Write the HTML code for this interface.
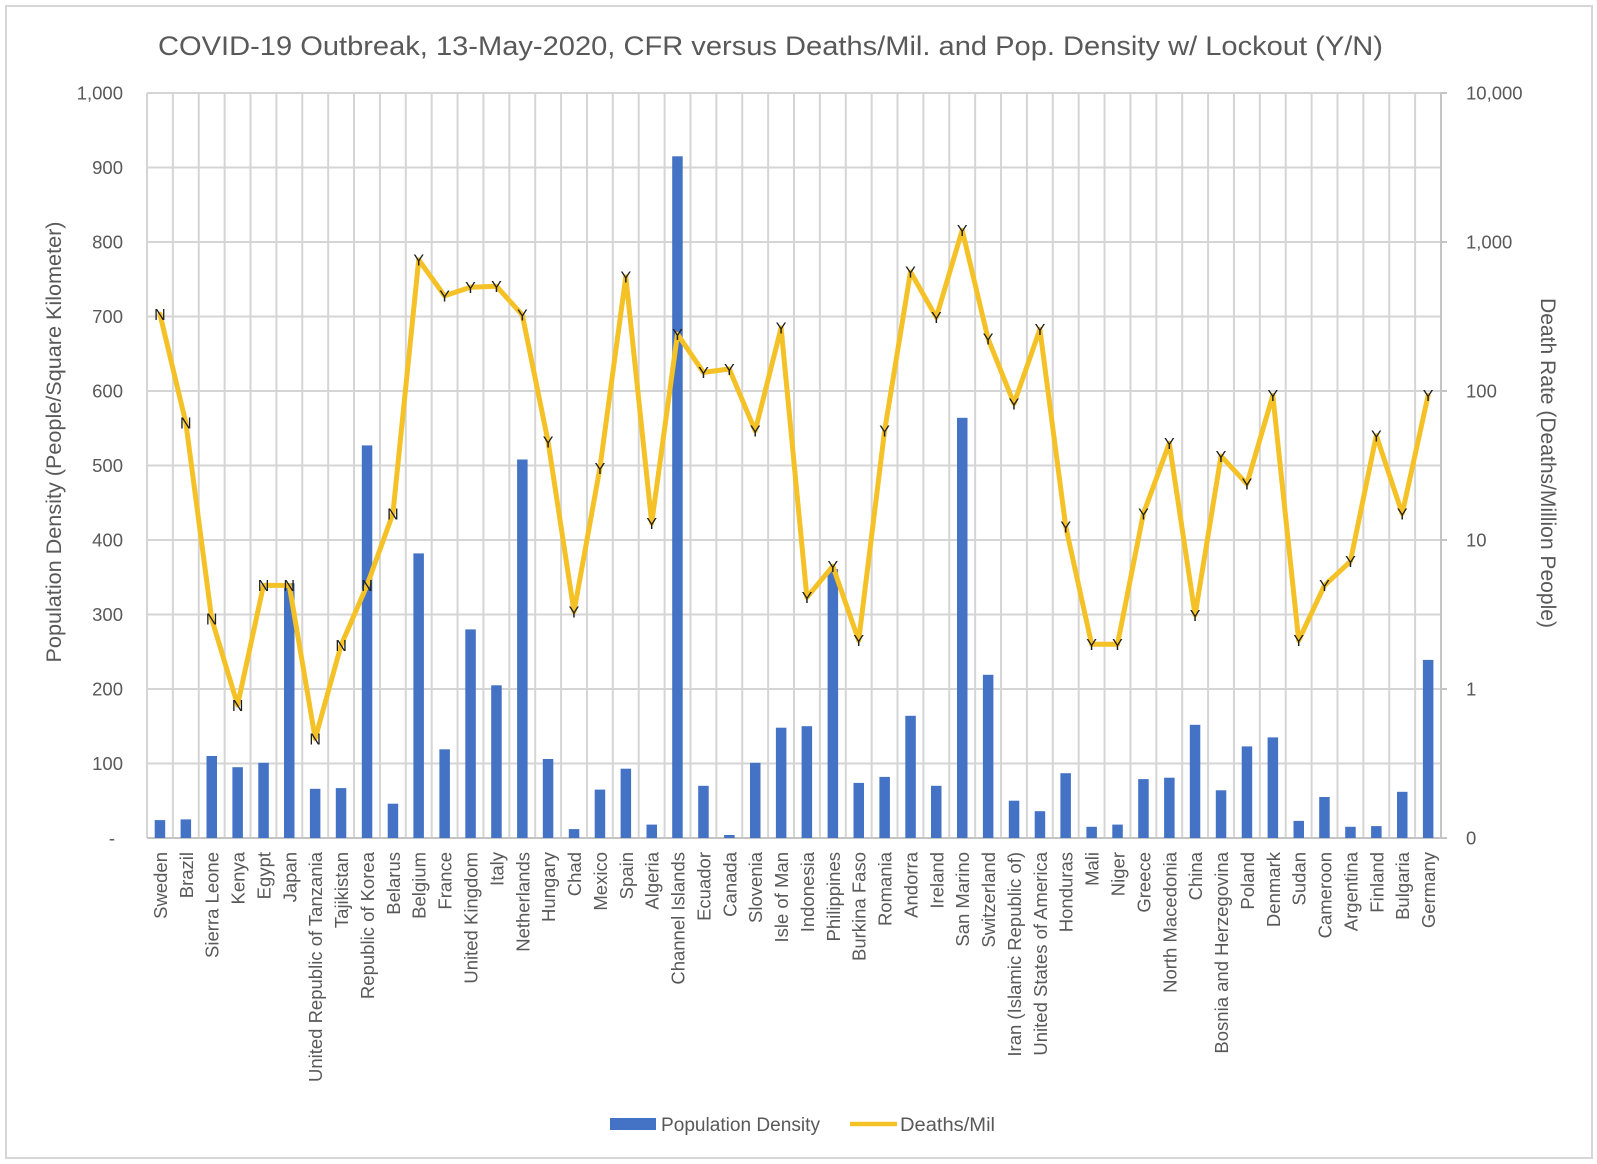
<!DOCTYPE html>
<html><head><meta charset="utf-8"><style>
html,body{margin:0;padding:0;background:#fff;}
svg{display:block;}
text{font-family:"Liberation Sans",Arial,sans-serif;}
</style></head><body>
<svg width="1597" height="1164" viewBox="0 0 1597 1164" xmlns="http://www.w3.org/2000/svg">
<rect x="0" y="0" width="1597" height="1164" fill="#fff"/>
<rect x="6" y="6" width="1586" height="1152" fill="#fff" stroke="#D6D6D6" stroke-width="2"/>
<text x="158" y="55" font-size="26.5" fill="#595959" textLength="1225" lengthAdjust="spacingAndGlyphs">COVID-19 Outbreak, 13-May-2020, CFR versus Deaths/Mil. and Pop. Density w/ Lockout (Y/N)</text>
<!-- gridlines -->
<g stroke="#D5D5D5" stroke-width="2" fill="none">
<path d="M147 93H1441M147 167.5H1441M147 242H1441M147 316.5H1441M147 391H1441M147 465.5H1441M147 540H1441M147 614.5H1441M147 689H1441M147 763.5H1441"/>
<path d="M147 93V838M172.88 93V838M198.76 93V838M224.64 93V838M250.52 93V838M276.4 93V838M302.28 93V838M328.16 93V838M354.04 93V838M379.92 93V838M405.8 93V838M431.68 93V838M457.56 93V838M483.44 93V838M509.32 93V838M535.2 93V838M561.08 93V838M586.96 93V838M612.84 93V838M638.72 93V838M664.6 93V838M690.48 93V838M716.36 93V838M742.24 93V838M768.12 93V838M794 93V838M819.88 93V838M845.76 93V838M871.64 93V838M897.52 93V838M923.4 93V838M949.28 93V838M975.16 93V838M1001.04 93V838M1026.92 93V838M1052.8 93V838M1078.68 93V838M1104.56 93V838M1130.44 93V838M1156.32 93V838M1182.2 93V838M1208.08 93V838M1233.96 93V838M1259.84 93V838M1285.72 93V838M1311.6 93V838M1337.48 93V838M1363.36 93V838M1389.24 93V838M1415.12 93V838"/>
</g>
<g stroke="#C4C4C4" stroke-width="2" fill="none">
<path d="M1441 93V838M147 838H1441M1441 93H1447M1441 242H1447M1441 391H1447M1441 540H1447M1441 689H1447M1441 838H1447"/>
</g>
<!-- bars -->
<g fill="#4472C4">
<rect x="154.7" y="820.1" width="10.5" height="17.9"/>
<rect x="180.6" y="819.4" width="10.5" height="18.6"/>
<rect x="206.5" y="756.0" width="10.5" height="82.0"/>
<rect x="232.4" y="767.2" width="10.5" height="70.8"/>
<rect x="258.3" y="762.8" width="10.5" height="75.2"/>
<rect x="284.0" y="583.2" width="10.5" height="254.8"/>
<rect x="309.9" y="788.8" width="10.5" height="49.2"/>
<rect x="335.8" y="788.1" width="10.5" height="49.9"/>
<rect x="361.8" y="445.4" width="10.5" height="392.6"/>
<rect x="387.7" y="803.7" width="10.5" height="34.3"/>
<rect x="413.4" y="553.4" width="10.5" height="284.6"/>
<rect x="439.4" y="749.3" width="10.5" height="88.7"/>
<rect x="465.3" y="629.4" width="10.5" height="208.6"/>
<rect x="491.2" y="685.3" width="10.5" height="152.7"/>
<rect x="517.1" y="459.5" width="10.5" height="378.5"/>
<rect x="542.8" y="759.0" width="10.5" height="79.0"/>
<rect x="568.8" y="829.1" width="10.5" height="8.9"/>
<rect x="594.7" y="789.6" width="10.5" height="48.4"/>
<rect x="620.6" y="768.7" width="10.5" height="69.3"/>
<rect x="646.5" y="824.6" width="10.5" height="13.4"/>
<rect x="672.2" y="156.3" width="10.5" height="681.7"/>
<rect x="698.2" y="785.8" width="10.5" height="52.2"/>
<rect x="724.1" y="835.0" width="10.5" height="3.0"/>
<rect x="750.0" y="762.8" width="10.5" height="75.2"/>
<rect x="775.9" y="727.7" width="10.5" height="110.3"/>
<rect x="801.6" y="726.2" width="10.5" height="111.8"/>
<rect x="827.6" y="569.1" width="10.5" height="268.9"/>
<rect x="853.5" y="782.9" width="10.5" height="55.1"/>
<rect x="879.4" y="776.9" width="10.5" height="61.1"/>
<rect x="905.3" y="715.8" width="10.5" height="122.2"/>
<rect x="931.0" y="785.8" width="10.5" height="52.2"/>
<rect x="957.0" y="417.8" width="10.5" height="420.2"/>
<rect x="982.9" y="674.8" width="10.5" height="163.2"/>
<rect x="1008.8" y="800.7" width="10.5" height="37.3"/>
<rect x="1034.7" y="811.2" width="10.5" height="26.8"/>
<rect x="1060.4" y="773.2" width="10.5" height="64.8"/>
<rect x="1086.4" y="826.8" width="10.5" height="11.2"/>
<rect x="1112.3" y="824.6" width="10.5" height="13.4"/>
<rect x="1138.2" y="779.1" width="10.5" height="58.9"/>
<rect x="1164.1" y="777.7" width="10.5" height="60.3"/>
<rect x="1189.8" y="724.8" width="10.5" height="113.2"/>
<rect x="1215.8" y="790.3" width="10.5" height="47.7"/>
<rect x="1241.7" y="746.4" width="10.5" height="91.6"/>
<rect x="1267.6" y="737.4" width="10.5" height="100.6"/>
<rect x="1293.5" y="820.9" width="10.5" height="17.1"/>
<rect x="1319.2" y="797.0" width="10.5" height="41.0"/>
<rect x="1345.2" y="826.8" width="10.5" height="11.2"/>
<rect x="1371.1" y="826.1" width="10.5" height="11.9"/>
<rect x="1397.0" y="791.8" width="10.5" height="46.2"/>
<rect x="1422.9" y="659.9" width="10.5" height="178.1"/>
</g>
<!-- line -->
<polyline fill="none" stroke="#F4C127" stroke-width="5" stroke-linejoin="round" stroke-linecap="round" points="159.9,314.0 185.8,422.6 211.7,618.9 237.6,705.0 263.5,585.4 289.3,585.4 315.2,738.5 341.1,645.2 367.0,585.4 392.9,513.6 418.7,259.9 444.6,295.8 470.5,287.2 496.4,286.2 522.3,314.9 548.1,441.8 574.0,611.7 599.9,468.1 625.8,276.7 651.7,523.1 677.5,334.1 703.4,372.4 729.3,369.0 755.2,430.8 781.1,327.9 806.9,597.3 832.8,566.2 858.7,640.4 884.6,430.8 910.5,271.9 936.3,317.3 962.2,230.2 988.1,338.9 1014.0,403.5 1039.9,329.3 1065.7,526.5 1091.6,644.2 1117.5,644.2 1143.4,513.6 1169.3,443.2 1195.1,615.0 1221.0,456.1 1246.9,483.9 1272.8,395.4 1298.7,640.4 1324.5,585.4 1350.4,561.4 1376.3,435.6 1402.2,513.6 1428.1,395.4"/>
<!-- data labels -->
<g font-size="16" fill="#1E1E1E" text-anchor="middle">
<text x="159.9" y="319.8">N</text>
<text x="185.8" y="428.4">N</text>
<text x="211.7" y="624.7">N</text>
<text x="237.6" y="710.8">N</text>
<text x="263.5" y="591.2">N</text>
<text x="289.3" y="591.2">N</text>
<text x="315.2" y="744.3">N</text>
<text x="341.1" y="651.0">N</text>
<text x="367.0" y="591.2">N</text>
<text x="392.9" y="519.4">N</text>
<text x="418.7" y="265.7">Y</text>
<text x="444.6" y="301.6">Y</text>
<text x="470.5" y="293.0">Y</text>
<text x="496.4" y="292.0">Y</text>
<text x="522.3" y="320.7">Y</text>
<text x="548.1" y="447.6">Y</text>
<text x="574.0" y="617.5">Y</text>
<text x="599.9" y="473.9">Y</text>
<text x="625.8" y="282.5">Y</text>
<text x="651.7" y="528.9">Y</text>
<text x="677.5" y="339.9">Y</text>
<text x="703.4" y="378.2">Y</text>
<text x="729.3" y="374.8">Y</text>
<text x="755.2" y="436.6">Y</text>
<text x="781.1" y="333.7">Y</text>
<text x="806.9" y="603.1">Y</text>
<text x="832.8" y="572.0">Y</text>
<text x="858.7" y="646.2">Y</text>
<text x="884.6" y="436.6">Y</text>
<text x="910.5" y="277.7">Y</text>
<text x="936.3" y="323.1">Y</text>
<text x="962.2" y="236.0">Y</text>
<text x="988.1" y="344.7">Y</text>
<text x="1014.0" y="409.3">Y</text>
<text x="1039.9" y="335.1">Y</text>
<text x="1065.7" y="532.3">Y</text>
<text x="1091.6" y="650.0">Y</text>
<text x="1117.5" y="650.0">Y</text>
<text x="1143.4" y="519.4">Y</text>
<text x="1169.3" y="449.0">Y</text>
<text x="1195.1" y="620.8">Y</text>
<text x="1221.0" y="461.9">Y</text>
<text x="1246.9" y="489.7">Y</text>
<text x="1272.8" y="401.2">Y</text>
<text x="1298.7" y="646.2">Y</text>
<text x="1324.5" y="591.2">Y</text>
<text x="1350.4" y="567.2">Y</text>
<text x="1376.3" y="441.4">Y</text>
<text x="1402.2" y="519.4">Y</text>
<text x="1428.1" y="401.2">Y</text>
</g>
<!-- left ticks -->
<g font-size="18.5" fill="#595959" text-anchor="end">
<text x="123" y="99.5">1,000</text>
<text x="123" y="174">900</text>
<text x="123" y="248.5">800</text>
<text x="123" y="323">700</text>
<text x="123" y="397.5">600</text>
<text x="123" y="472">500</text>
<text x="123" y="546.5">400</text>
<text x="123" y="621">300</text>
<text x="123" y="695.5">200</text>
<text x="123" y="770">100</text>
<text x="115" y="844.5">-</text>
</g>
<!-- right ticks -->
<g font-size="18.5" fill="#595959">
<text x="1466" y="99.5">10,000</text>
<text x="1466" y="248.5">1,000</text>
<text x="1466" y="397.5">100</text>
<text x="1466" y="546.5">10</text>
<text x="1466" y="695.5">1</text>
<text x="1466" y="844.5">0</text>
</g>
<!-- axis titles -->
<text x="61" y="442" font-size="21" fill="#595959" text-anchor="middle" transform="rotate(-90 61 442)" textLength="441" lengthAdjust="spacingAndGlyphs">Population Density (People/Square Kilometer)</text>
<text x="1541" y="463" font-size="21" fill="#595959" text-anchor="middle" transform="rotate(90 1541 463)" textLength="330" lengthAdjust="spacingAndGlyphs">Death Rate (Deaths/Million People)</text>
<!-- category labels -->
<g font-size="18.5" fill="#595959" text-anchor="end">
<text x="166.9" y="852" transform="rotate(-90 166.9 852)">Sweden</text>
<text x="192.8" y="852" transform="rotate(-90 192.8 852)">Brazil</text>
<text x="218.7" y="852" transform="rotate(-90 218.7 852)">Sierra Leone</text>
<text x="244.6" y="852" transform="rotate(-90 244.6 852)">Kenya</text>
<text x="270.5" y="852" transform="rotate(-90 270.5 852)">Egypt</text>
<text x="296.3" y="852" transform="rotate(-90 296.3 852)">Japan</text>
<text x="322.2" y="852" transform="rotate(-90 322.2 852)">United Republic of Tanzania</text>
<text x="348.1" y="852" transform="rotate(-90 348.1 852)">Tajikistan</text>
<text x="374.0" y="852" transform="rotate(-90 374.0 852)">Republic of Korea</text>
<text x="399.9" y="852" transform="rotate(-90 399.9 852)">Belarus</text>
<text x="425.7" y="852" transform="rotate(-90 425.7 852)">Belgium</text>
<text x="451.6" y="852" transform="rotate(-90 451.6 852)">France</text>
<text x="477.5" y="852" transform="rotate(-90 477.5 852)">United Kingdom</text>
<text x="503.4" y="852" transform="rotate(-90 503.4 852)">Italy</text>
<text x="529.3" y="852" transform="rotate(-90 529.3 852)">Netherlands</text>
<text x="555.1" y="852" transform="rotate(-90 555.1 852)">Hungary</text>
<text x="581.0" y="852" transform="rotate(-90 581.0 852)">Chad</text>
<text x="606.9" y="852" transform="rotate(-90 606.9 852)">Mexico</text>
<text x="632.8" y="852" transform="rotate(-90 632.8 852)">Spain</text>
<text x="658.7" y="852" transform="rotate(-90 658.7 852)">Algeria</text>
<text x="684.5" y="852" transform="rotate(-90 684.5 852)">Channel Islands</text>
<text x="710.4" y="852" transform="rotate(-90 710.4 852)">Ecuador</text>
<text x="736.3" y="852" transform="rotate(-90 736.3 852)">Canada</text>
<text x="762.2" y="852" transform="rotate(-90 762.2 852)">Slovenia</text>
<text x="788.1" y="852" transform="rotate(-90 788.1 852)">Isle of Man</text>
<text x="813.9" y="852" transform="rotate(-90 813.9 852)">Indonesia</text>
<text x="839.8" y="852" transform="rotate(-90 839.8 852)">Philippines</text>
<text x="865.7" y="852" transform="rotate(-90 865.7 852)">Burkina Faso</text>
<text x="891.6" y="852" transform="rotate(-90 891.6 852)">Romania</text>
<text x="917.5" y="852" transform="rotate(-90 917.5 852)">Andorra</text>
<text x="943.3" y="852" transform="rotate(-90 943.3 852)">Ireland</text>
<text x="969.2" y="852" transform="rotate(-90 969.2 852)">San Marino</text>
<text x="995.1" y="852" transform="rotate(-90 995.1 852)">Switzerland</text>
<text x="1021.0" y="852" transform="rotate(-90 1021.0 852)">Iran (Islamic Republic of)</text>
<text x="1046.9" y="852" transform="rotate(-90 1046.9 852)">United States of America</text>
<text x="1072.7" y="852" transform="rotate(-90 1072.7 852)">Honduras</text>
<text x="1098.6" y="852" transform="rotate(-90 1098.6 852)">Mali</text>
<text x="1124.5" y="852" transform="rotate(-90 1124.5 852)">Niger</text>
<text x="1150.4" y="852" transform="rotate(-90 1150.4 852)">Greece</text>
<text x="1176.3" y="852" transform="rotate(-90 1176.3 852)">North Macedonia</text>
<text x="1202.1" y="852" transform="rotate(-90 1202.1 852)">China</text>
<text x="1228.0" y="852" transform="rotate(-90 1228.0 852)">Bosnia and Herzegovina</text>
<text x="1253.9" y="852" transform="rotate(-90 1253.9 852)">Poland</text>
<text x="1279.8" y="852" transform="rotate(-90 1279.8 852)">Denmark</text>
<text x="1305.7" y="852" transform="rotate(-90 1305.7 852)">Sudan</text>
<text x="1331.5" y="852" transform="rotate(-90 1331.5 852)">Cameroon</text>
<text x="1357.4" y="852" transform="rotate(-90 1357.4 852)">Argentina</text>
<text x="1383.3" y="852" transform="rotate(-90 1383.3 852)">Finland</text>
<text x="1409.2" y="852" transform="rotate(-90 1409.2 852)">Bulgaria</text>
<text x="1435.1" y="852" transform="rotate(-90 1435.1 852)">Germany</text>
</g>
<!-- legend -->
<rect x="610" y="1118" width="46" height="12" fill="#4472C4"/>
<text x="661" y="1131" font-size="19" fill="#595959" textLength="159" lengthAdjust="spacingAndGlyphs">Population Density</text>
<line x1="850" y1="1124" x2="897" y2="1124" stroke="#F4C127" stroke-width="4.5"/>
<text x="900" y="1131" font-size="19" fill="#595959" textLength="95" lengthAdjust="spacingAndGlyphs">Deaths/Mil</text>
</svg>
</body></html>
